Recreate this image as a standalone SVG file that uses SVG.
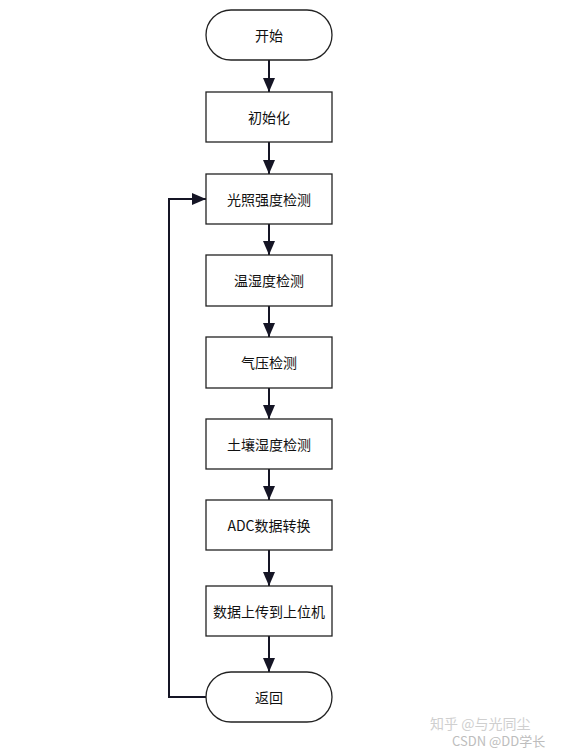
<svg xmlns="http://www.w3.org/2000/svg" width="565" height="753" viewBox="0 0 565 753">
<defs>
<style>
.n{fill:#fff;stroke:#222;stroke-width:1.3}
.t{font-family:"Noto Sans CJK SC","Liberation Sans",sans-serif;font-size:14px;fill:#111;text-anchor:middle;dominant-baseline:central}
.c{fill:none;stroke:#151525;stroke-width:2}
.w{font-family:"Noto Sans CJK SC","Liberation Sans",sans-serif;font-size:14px;fill:#cfcfcf}
</style>
<marker id="a" viewBox="0 0 14 12" refX="14" refY="6" markerWidth="14" markerHeight="12" markerUnits="userSpaceOnUse" orient="auto">
<path d="M0,0L14,6L0,12z" fill="#151525"/>
</marker>
</defs>
<rect width="565" height="753" fill="#fff"/>
<g id="connectors">
<line class="c" x1="269" y1="60" x2="269" y2="92" marker-end="url(#a)"/>
<line class="c" x1="269" y1="142" x2="269" y2="174" marker-end="url(#a)"/>
<line class="c" x1="269" y1="224" x2="269" y2="255" marker-end="url(#a)"/>
<line class="c" x1="269" y1="306" x2="269" y2="337" marker-end="url(#a)"/>
<line class="c" x1="269" y1="388" x2="269" y2="419" marker-end="url(#a)"/>
<line class="c" x1="269" y1="469" x2="269" y2="500" marker-end="url(#a)"/>
<line class="c" x1="269" y1="550" x2="269" y2="586" marker-end="url(#a)"/>
<line class="c" x1="269" y1="636" x2="269" y2="672" marker-end="url(#a)"/>
<polyline class="c" points="206,697 169,697 169,199 206,199" marker-end="url(#a)"/>
</g>
<g id="start"><rect class="n" x="206" y="10" width="126" height="50" rx="25"/><text class="t" x="269" y="35">开始</text></g>
<g id="init"><rect class="n" x="206" y="92" width="126" height="50"/><text class="t" x="269" y="117">初始化</text></g>
<g id="light"><rect class="n" x="206" y="174" width="126" height="50"/><text class="t" x="269" y="199">光照强度检测</text></g>
<g id="temphum"><rect class="n" x="206" y="255" width="126" height="51"/><text class="t" x="269" y="280">温湿度检测</text></g>
<g id="pressure"><rect class="n" x="206" y="337" width="126" height="51"/><text class="t" x="269" y="362">气压检测</text></g>
<g id="soil"><rect class="n" x="206" y="419" width="126" height="50"/><text class="t" x="269" y="444">土壤湿度检测</text></g>
<g id="adc"><rect class="n" x="206" y="500" width="126" height="50"/><text class="t" x="269" y="525">ADC数据转换</text></g>
<g id="upload"><rect class="n" x="206" y="586" width="126" height="50"/><text class="t" x="269" y="611">数据上传到上位机</text></g>
<g id="return"><rect class="n" x="206" y="672" width="126" height="50" rx="25"/><text class="t" x="269" y="697">返回</text></g>
<text class="w" x="430" y="729">知乎 @与光同尘</text>
<text class="w" x="452" y="746" style="fill:#bdbdbd;font-size:13px">CSDN @DD学长</text>
</svg>
